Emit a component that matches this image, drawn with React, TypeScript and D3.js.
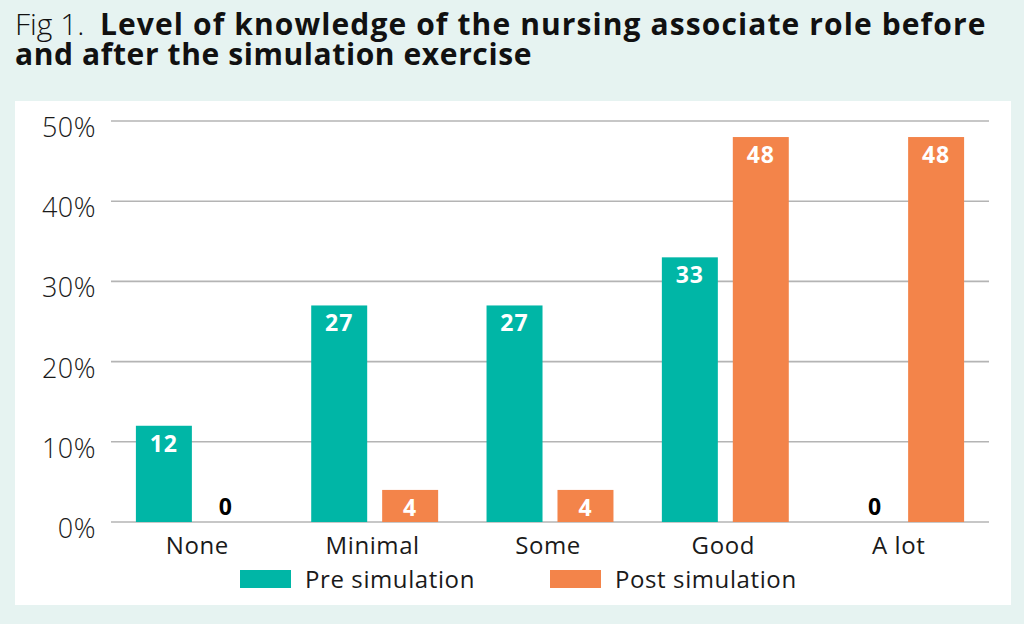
import * as d3 from "d3";

const categories = ["None", "Minimal", "Some", "Good", "A lot"];
const preSimulation = [12, 27, 27, 33, 0];
const postSimulation = [0, 4, 4, 48, 48];
const seriesNames = ["Pre simulation", "Post simulation"];
const seriesColors = ["#00b6a6", "#f3844a"];
const yTicks = [0, 10, 20, 30, 40, 50];

const W = 1024;
const H = 624;
const bg = "#e6f3f1";
const axisFont = "'Open Sans', 'Noto Sans', sans-serif";
const labelFont = "'Open Sans', 'Noto Sans', sans-serif";

export default function App() {
  const y = d3.scaleLinear().domain([0, 50]).range([522, 121]);
  const x0 = d3
    .scaleBand<string>()
    .domain(categories)
    .range([111, 989])
    .paddingInner(0.276)
    .paddingOuter(0.142);
  const x1 = d3
    .scaleBand<string>()
    .domain(seriesNames)
    .range([0, x0.bandwidth()])
    .paddingInner(0.211);

  const series = [preSimulation, postSimulation];

  return (
    <svg
      width={W}
      height={H}
      viewBox={`0 0 ${W} ${H}`}
      style={{ position: "absolute", left: 0, top: 0, display: "block" }}
    >
      <rect x={0} y={0} width={W} height={H} fill={bg} />

      {/* title */}
      <text x={15} y={35} fontFamily={labelFont} fontSize={30} fontWeight={300} fill="#111">
        Fig 1.
      </text>
      <text
        x={100}
        y={35}
        fontFamily={labelFont}
        fontSize={30}
        fontWeight={700}
        letterSpacing={1.1}
        fill="#111"
      >
        Level of knowledge of the nursing associate role before
      </text>
      <text
        x={15}
        y={65}
        fontFamily={labelFont}
        fontSize={30}
        fontWeight={700}
        letterSpacing={0.6}
        fill="#111"
      >
        and after the simulation exercise
      </text>

      {/* panel */}
      <rect x={15} y={101} width={996} height={504} fill="#ffffff" />

      {/* grid + y labels */}
      {yTicks.map((t) => (
        <g key={t}>
          <line x1={111} x2={989} y1={y(t)} y2={y(t)} stroke="#b4b4b4" strokeWidth={1.6} />
          <text
            x={96}
            y={y(t)}
            dy={16}
            textAnchor="end"
            fontFamily={axisFont}
            fontWeight={300}
            fontSize={27}
            letterSpacing={0.5}
            fill="#1a1a1a"
          >
            {`${t}%`}
          </text>
        </g>
      ))}

      {/* bars */}
      {categories.map((c, i) => (
        <g key={c} transform={`translate(${x0(c)},0)`}>
          {series.map((vals, s) => {
            const v = vals[i];
            const bx = x1(seriesNames[s])!;
            const bw = x1.bandwidth();
            // zero labels sit a little toward the middle of the pair
            const shift = v > 0 ? 0 : s === 0 ? 10 : -9;
            return (
              <g key={s}>
                {v > 0 && (
                  <rect x={bx} y={y(v)} width={bw} height={y(0) - y(v)} fill={seriesColors[s]} />
                )}
                <text
                  x={bx + bw / 2 + shift}
                  y={v > 0 ? y(v) + 26 : y(0) - 7}
                  textAnchor="middle"
                  fontFamily={labelFont}
                  fontWeight={700}
                  fontSize={23}
                  letterSpacing={1}
                  fill={v > 0 ? "#ffffff" : "#000000"}
                >
                  {v}
                </text>
              </g>
            );
          })}
          <text
            x={x0.bandwidth() / 2 - 2}
            y={554}
            textAnchor="middle"
            fontFamily={axisFont}
            fontSize={24}
            letterSpacing={0.6}
            fill="#1a1a1a"
          >
            {c}
          </text>
        </g>
      ))}

      {/* legend */}
      {seriesNames.map((n, s) => {
        const lx = s === 0 ? 240 : 550;
        return (
          <g key={n}>
            <rect x={lx} y={570} width={51} height={18} fill={seriesColors[s]} />
            <text
              x={lx + 65}
              y={588}
              fontFamily={axisFont}
              fontSize={24}
              letterSpacing={0.6}
              fill="#1a1a1a"
            >
              {n}
            </text>
          </g>
        );
      })}
    </svg>
  );
}
